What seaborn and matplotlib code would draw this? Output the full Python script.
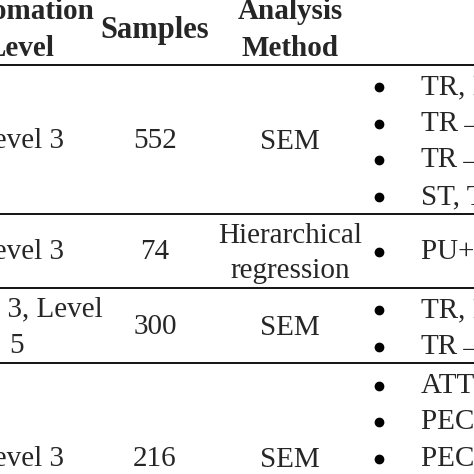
import matplotlib
matplotlib.use("Agg")
import matplotlib.pyplot as plt
import seaborn as sns

# table content
level_col = ["Level 3", "Level 3", "Level 3, Level\n5", "Level 3"]
samples = ["552", "74", "300", "216"]
methods = ["SEM", "Hierarchical\nregression", "SEM", "SEM"]
findings = [
    ["TR, IT \u2192 BI", "TR\u2192PU \u2192 BI", "TR\u2192PEOU", "ST, TR \u2192 BI"],
    ["PU+TR \u2192 BI"],
    ["TR, IT \u2192 BI", "TR\u2192PU"],
    ["ATT \u2192 BI", "PEC \u2192 ATT", "PEC \u2192 BI"],
]
headers = ["Automation\nLevel", "Samples", "Analysis\nMethod"]

sns.set_style("white")
plt.rcParams['font.family'] = ['Liberation Serif', 'DejaVu Serif']

fig = plt.figure(figsize=(4.74, 4.74), dpi=100)
ax = fig.add_axes([0, 0, 1, 1])
ax.set_xlim(0, 474)
ax.set_ylim(474, 0)
ax.axis("off")

col_x = [20, 155, 290]
fs = 21

# header
ax.text(col_x[0], 30, headers[0], ha="center", va="center", fontsize=fs, fontweight="bold", linespacing=1.45)
ax.text(col_x[1], 30, headers[1], ha="center", va="center", fontsize=fs + 1, fontweight="bold")
ax.text(col_x[2], 30, headers[2], ha="center", va="center", fontsize=fs, fontweight="bold", linespacing=1.45)

# row layout
row_top = [65, 214, 288, 363]
centers = [141, 252, 327, 459]
bullet_y = [[87, 124, 160, 197], [252], [310, 347], [386, 422, 459]]

for sep in row_top:
    ax.axhline(sep, color="black", lw=1.3)

for i in range(len(samples)):
    c = centers[i]
    if i == 2:
        ax.text(18, 309, level_col[i].split("\n")[0], ha="center", va="center", fontsize=fs)
        ax.text(17, 346, level_col[i].split("\n")[1], ha="center", va="center", fontsize=fs)
    else:
        ax.text(col_x[0], c, level_col[i], ha="center", va="center", fontsize=fs)
    ax.text(col_x[1], c, samples[i], ha="center", va="center", fontsize=fs)
    ax.text(col_x[2], c + 1, methods[i], ha="center", va="center", fontsize=fs, linespacing=1.45)
    for y, f in zip(bullet_y[i], findings[i]):
        ax.plot(379, y, "o", color="black", ms=6)
        ax.text(421, y, f, ha="left", va="center", fontsize=fs)

fig.savefig("out.png", dpi=100)
